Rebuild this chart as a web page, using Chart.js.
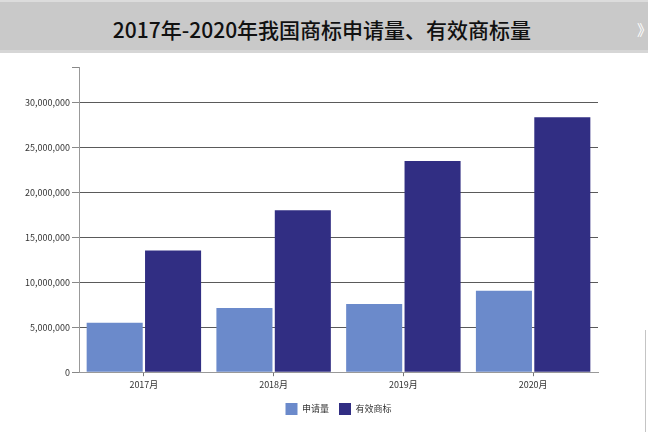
<!DOCTYPE html>
<html>
<head>
<meta charset="utf-8">
<script src="https://cdn.jsdelivr.net/npm/chart.js@4/dist/chart.umd.min.js"></script>
<style>
  html, body { margin: 0; padding: 0; background: #fff; }
  body { width: 648px; height: 439px; position: relative; overflow: hidden;
         font-family: "Noto Sans CJK SC", "Noto Sans", sans-serif; }
  .title-bar {
    position: absolute; left: 0; top: 0; width: 648px; height: 53px;
    background: #c9c9c9;
    border-top: 2px solid #dcdcdc;
    box-sizing: border-box;
    box-shadow: inset 0 -3px 0 #d6d6d6;
  }
  .title-bar h1 {
    margin: 0; position: absolute; left: 0; width: 644px; top: 12px;
    text-align: center; font-size: 21px; font-weight: 500; color: #111;
    line-height: 30px; letter-spacing: 0;
  }
  .title-bar .arrow {
    position: absolute; right: -4px; top: 17px; color: #fff; font-size: 15px;
  }
  .chart-box { position: absolute; left: 0; top: 53px; width: 648px; height: 386px; }
  .edge { position: absolute; left: 645px; top: 330px; width: 1px; height: 102px; background: #c4c4c4; }
</style>
</head>
<body>
<div class="title-bar">
  <h1>2017年-2020年我国商标申请量、有效商标量</h1>
  <span class="arrow">》</span>
</div>
<div class="chart-box"><canvas id="trademarkChart"></canvas></div>
<div class="edge"></div>
<script>
const categories = ['2017月', '2018月', '2019月', '2020月'];
const applications = [5520000, 7140000, 7590000, 9080000];
const validMarks = [13560000, 18050000, 23540000, 28400000];
const seriesNames = ['申请量', '有效商标'];
const yTickValues = [0, 5000000, 10000000, 15000000, 20000000, 25000000, 30000000];
const yMax = 34000000;

function withCommas(n) {
  return String(Math.round(n)).replace(/\B(?=(\d{3})+(?!\d))/g, ',');
}

const ctx = document.getElementById('trademarkChart');

new Chart(ctx, {
  type: 'bar',
  data: {
    labels: categories,
    datasets: [
      {
        label: seriesNames[0],
        data: applications,
        backgroundColor: '#6b8acb',
        borderWidth: 0
      },
      {
        label: seriesNames[1],
        data: validMarks,
        backgroundColor: '#312e83',
        borderWidth: 0
      }
    ]
  },
  options: {
    responsive: true,
    maintainAspectRatio: false,
    animation: false,
    categoryPercentage: 0.9,
    barPercentage: 0.96,
    layout: {
      padding: { top: 14, right: 50, left: 0, bottom: 14 }
    },
    scales: {
      x: {
        grid: {
          offset: false,
          drawOnChartArea: false,
          drawTicks: true,
          tickLength: 4,
          tickColor: '#777'
        },
        border: { display: true, color: '#999', width: 1 },
        ticks: {
          color: '#333',
          padding: 3,
          font: { family: '"Noto Sans CJK SC", sans-serif', size: 9 }
        }
      },
      y: {
        min: 0,
        max: yMax,
        afterFit: function(scale) { scale.width = 79; },
        afterBuildTicks: function(scale) {
          // fixed 5,000,000 steps plus an unlabelled tick at the axis top
          scale.ticks = yTickValues.concat([yMax]).map(function(v) { return { value: v }; });
        },
        ticks: {
          autoSkip: false,
          padding: 2,
          color: '#333',
          font: { family: '"Noto Sans CJK SC", sans-serif', size: 9 },
          callback: function(value) {
            if (value >= yMax) return '';
            return withCommas(value);
          }
        },
        grid: {
          color: function(context) {
            if (context.tick && (context.tick.value === 0 || context.tick.value === yMax)) {
              return 'rgba(0,0,0,0)';
            }
            return '#5a5a5a';
          },
          tickColor: '#888',
          tickLength: 7,
          lineWidth: 1
        },
        border: { display: true, color: '#999', width: 1 }
      }
    },
    plugins: {
      title: { display: false },
      tooltip: { enabled: false },
      legend: {
        display: true,
        position: 'bottom',
        fullSize: false,
        labels: {
          boxWidth: 12,
          boxHeight: 12,
          padding: 10,
          color: '#333',
          font: { family: '"Noto Sans CJK SC", sans-serif', size: 9 }
        }
      }
    }
  }
});
</script>
</body>
</html>
